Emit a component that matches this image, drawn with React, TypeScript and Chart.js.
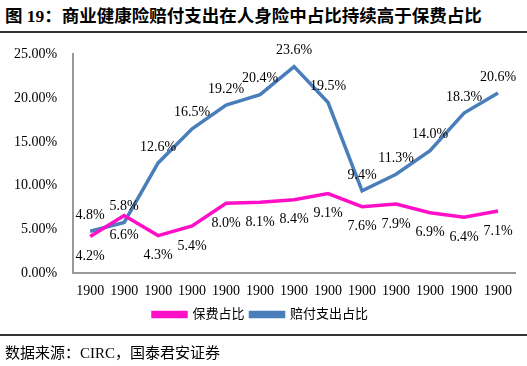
import React, { useEffect, useRef } from "react";
import { Chart, registerables } from "chart.js";

Chart.register(...registerables);

const categories = ["1900","1900","1900","1900","1900","1900","1900","1900","1900","1900","1900","1900","1900"];
const premiumShare = [4.2, 6.6, 4.3, 5.4, 8.0, 8.1, 8.4, 9.1, 7.6, 7.9, 6.9, 6.4, 7.1];
const claimsShare = [4.8, 5.8, 12.6, 16.5, 19.2, 20.4, 23.6, 19.5, 9.4, 11.3, 14.0, 18.3, 20.6];
const seriesNames = ["保费占比", "赔付支出占比"];
const titleText = "图 19：商业健康险赔付支出在人身险中占比持续高于保费占比";
const sourceText = "数据来源：CIRC，国泰君安证券";

const SERIF = '"Liberation Serif", "Noto Sans CJK SC", serif';

const labelPlugin = {
  id: "pointLabels",
  afterDatasetsDraw(chart: any) {
    const ctx = chart.ctx;
    ctx.save();
    ctx.font = "14px " + SERIF;
    ctx.fillStyle = "#000";
    ctx.textAlign = "center";
    ctx.textBaseline = "middle";
    chart.data.datasets.forEach((ds: any, i: number) => {
      const meta = chart.getDatasetMeta(i);
      meta.data.forEach((pt: any, j: number) => {
        const v = ds.data[j];
        const txt = v.toFixed(1) + "%";
        const dy = i === 0 ? 20 : -16;
        ctx.fillText(txt, pt.x, pt.y + dy);
      });
    });
    ctx.restore();
  },
};

export default function App() {
  const ref = useRef<HTMLCanvasElement>(null);
  useEffect(() => {
    document.body.style.margin = "0";
    const chart = new Chart(ref.current!, {
      type: "line",
      data: {
        labels: categories,
        datasets: [
          {
            label: seriesNames[0],
            data: premiumShare,
            borderColor: "#FF10C8",
            backgroundColor: "#FF10C8",
            borderWidth: 3.5,
            pointRadius: 0,
            tension: 0,
          },
          {
            label: seriesNames[1],
            data: claimsShare,
            borderColor: "#4A7EBB",
            backgroundColor: "#4A7EBB",
            borderWidth: 3.5,
            pointRadius: 0,
            tension: 0,
          },
        ],
      },
      options: {
        animation: false,
        responsive: false,
        layout: { padding: { top: 10, right: 12, left: 6, bottom: 6 } },
        plugins: {
          legend: {
            position: "bottom",
            labels: {
              boxWidth: 33,
              boxHeight: 4,
              color: "#000",
              font: { size: 13, family: SERIF },
              padding: 6,
            },
          },
          tooltip: { enabled: false },
        },
        scales: {
          x: {
            offset: true,
            grid: { display: false },
            border: { display: true, color: "#999", width: 2 },
            ticks: { color: "#000", padding: 2, font: { size: 14, family: SERIF }, maxRotation: 0, autoSkip: false },
          },
          y: {
            min: 0,
            max: 25,
            grid: { display: false },
            border: { display: true, color: "#999", width: 2 },
            ticks: {
              stepSize: 5,
              color: "#000",
              padding: 8,
              font: { size: 14, family: SERIF },
              callback: (v: any) => Number(v).toFixed(2) + "%",
            },
          },
        },
      },
      plugins: [labelPlugin],
    });
    return () => chart.destroy();
  }, []);

  return (
    <div style={{ position: "relative", width: 527, height: 366, background: "#fff", overflow: "hidden" }}>
      <div style={{ position: "absolute", left: 5, top: 2, fontFamily: SERIF, fontWeight: "bold", fontSize: 17.5, whiteSpace: "nowrap", color: "#000" }}>
        {titleText}
      </div>
      <div style={{ position: "absolute", left: 0, top: 31, width: 527, height: 2, background: "#333" }} />
      <canvas ref={ref} width={527} height={299} style={{ position: "absolute", left: 0, top: 38 }} />
      <div style={{ position: "absolute", left: 0, top: 334, width: 527, height: 2, background: "#333" }} />
      <div style={{ position: "absolute", left: 5, top: 341, fontFamily: SERIF, fontSize: 15, whiteSpace: "nowrap", color: "#000" }}>
        {sourceText}
      </div>
    </div>
  );
}
